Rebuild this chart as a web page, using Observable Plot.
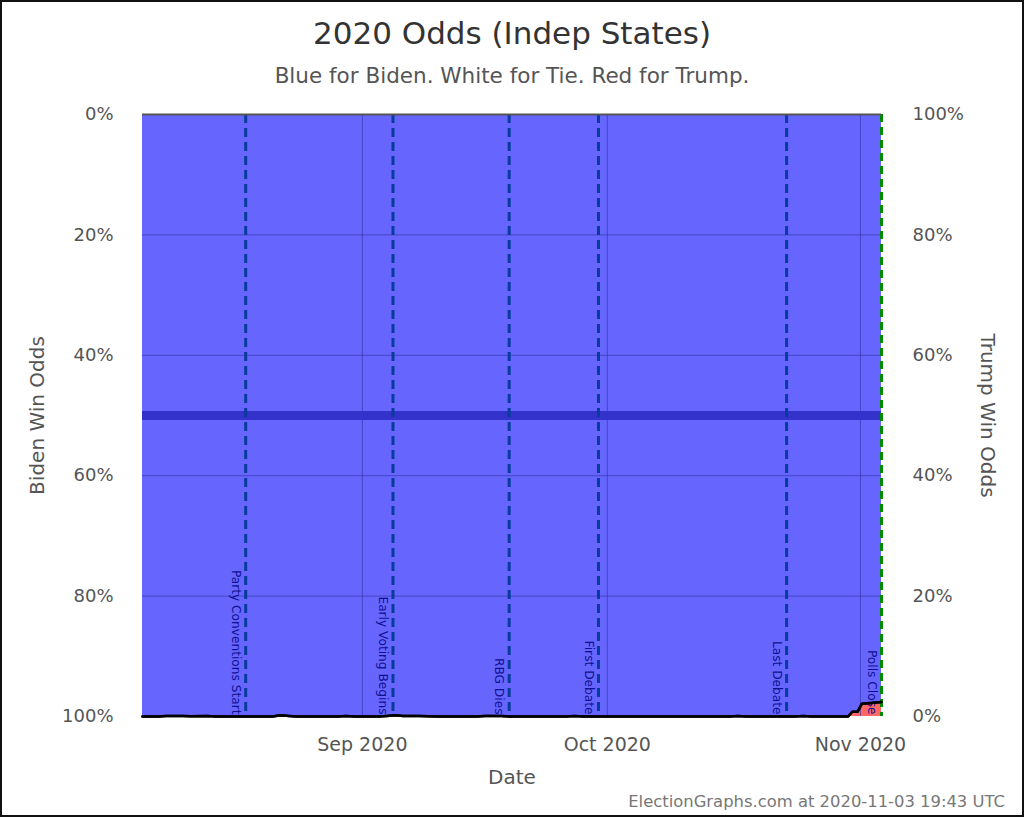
<!DOCTYPE html>
<html>
<head>
<meta charset="utf-8">
<script src="https://cdn.jsdelivr.net/npm/d3@7"></script>
<script src="https://cdn.jsdelivr.net/npm/@observablehq/plot@0.6"></script>
<style>
  html, body { margin: 0; padding: 0; background: #fff; }
  #wrap { position: relative; width: 1024px; height: 817px; overflow: hidden; font-family: "DejaVu Sans", sans-serif; }
  #border { position: absolute; left: 0; top: 0; width: 1024px; height: 817px; box-sizing: border-box; border: 2px solid #111; pointer-events: none; }
  .t { position: absolute; left: 0; width: 1024px; text-align: center; line-height: 1; white-space: nowrap; }
  #title { top: 18px; font-size: 31px; color: #333; }
  #subtitle { top: 65px; font-size: 21.5px; color: #555; }
  #footer { position: absolute; right: 19px; top: 794px; font-size: 16.4px; color: #777; line-height: 1; white-space: nowrap; }
  #chart { position: absolute; left: 0; top: 100px; }
</style>
</head>
<body>
<div id="wrap">
  <div id="title" class="t">2020 Odds (Indep States)</div>
  <div id="subtitle" class="t">Blue for Biden. White for Tie. Red for Trump.</div>
  <div id="chart"></div>
  <div id="footer">ElectionGraphs.com at 2020-11-03 19:43 UTC</div>
  <div id="border"></div>
</div>
<script>
// ---- data ----
const dates = [
  "2020-08-05T01:40Z", "2020-08-07T00:00Z", "2020-08-08T00:00Z", "2020-08-10T00:00Z", "2020-08-11T00:00Z",
  "2020-08-13T00:00Z", "2020-08-14T00:00Z", "2020-08-21T00:00Z", "2020-08-22T00:00Z", "2020-08-23T00:00Z",
  "2020-08-24T00:00Z", "2020-08-29T00:00Z", "2020-08-30T00:00Z", "2020-08-31T00:00Z", "2020-09-03T00:00Z",
  "2020-09-04T00:00Z", "2020-09-05T00:00Z", "2020-09-06T00:00Z", "2020-09-08T00:00Z", "2020-09-09T00:00Z",
  "2020-09-10T00:00Z", "2020-09-15T00:00Z", "2020-09-16T00:00Z", "2020-09-18T00:00Z", "2020-09-19T00:00Z",
  "2020-09-26T00:00Z", "2020-09-27T00:00Z", "2020-09-28T00:00Z", "2020-10-16T00:00Z", "2020-10-17T00:00Z",
  "2020-10-18T00:00Z", "2020-10-24T00:00Z", "2020-10-25T00:00Z", "2020-10-26T00:00Z", "2020-10-30T12:00Z",
  "2020-10-31T00:00Z", "2020-10-31T16:00Z", "2020-11-01T04:00Z", "2020-11-02T00:00Z", "2020-11-03T14:00Z"
];
const bidenOdds = [
  100, 100, 99.9, 99.9, 99.95,
  99.9, 100, 100, 99.8, 99.9,
  100, 100, 99.9, 100, 100,
  99.9, 99.8, 99.9, 99.9, 99.95,
  100, 100, 99.9, 99.9, 100,
  100, 99.9, 100, 100, 99.9,
  100, 100, 99.9, 100, 100,
  99.2, 99.2, 97.9, 97.8, 97.6
];
const trumpOdds = [
  0, 0, 0.1, 0.1, 0.05,
  0.1, 0, 0, 0.2, 0.1,
  0, 0, 0.1, 0, 0,
  0.1, 0.2, 0.1, 0.1, 0.05,
  0, 0, 0.1, 0.1, 0,
  0, 0.1, 0, 0, 0.1,
  0, 0, 0.1, 0, 0,
  0.8, 0.8, 2.1, 2.2, 2.4
];
const eventNames = ["Party Conventions Start", "Early Voting Begins", "RBG Dies", "First Debate", "Last Debate", "Polls Close"];
const eventDates = ["2020-08-17T17:00Z", "2020-09-04T18:00Z", "2020-09-18T23:30Z", "2020-09-29T22:00Z", "2020-10-22T23:00Z", "2020-11-03T14:00Z"];
const monthTicks = ["2020-09-01T00:00Z", "2020-10-01T00:00Z", "2020-11-01T00:00Z"];
const yTicks = [0, 20, 40, 60, 80, 100];
const xDomain = ["2020-08-05T01:40Z", "2020-11-03T14:00Z"];

// ---- build tables ----
const data = dates.map((d, i) => ({date: new Date(d), biden: bidenOdds[i], trump: trumpOdds[i]}));
const events = eventNames.map((n, i) => ({name: n, date: new Date(eventDates[i])}));
const months = monthTicks.map(d => new Date(d));
const mainEvents = events.slice(0, 5);
const closeEvent = events.slice(5);

const chart = Plot.plot({
  width: 1024,
  height: 690,
  marginTop: 14,
  marginBottom: 74,
  marginLeft: 142,
  marginRight: 143,
  style: {fontFamily: "DejaVu Sans, sans-serif", color: "#555", background: "transparent", overflow: "visible"},
  x: {type: "utc", domain: xDomain.map(d => new Date(d))},
  y: {domain: [0, 100], reverse: true},
  marks: [
    Plot.areaY(data, {x: "date", y1: 0, y2: "biden", fill: "#6666ff"}),
    Plot.areaY(data, {x: "date", y1: d => 100 - d.trump, y2: 100, fill: "#ff6666"}),
    Plot.ruleY([20, 40, 60, 80], {stroke: "#3434a4", strokeOpacity: 0.65, strokeWidth: 1}),
    Plot.ruleX(months, {stroke: "#3434a4", strokeOpacity: 0.65, strokeWidth: 1}),
    Plot.ruleY([50], {stroke: "#3333cc", strokeWidth: 9}),
    Plot.ruleX(mainEvents, {x: "date", stroke: "#073c9c", strokeWidth: 3, strokeDasharray: "9,5"}),
    Plot.ruleX(closeEvent, {x: "date", stroke: "#008a00", strokeWidth: 3, strokeDasharray: "8,5"}),
    Plot.text(events, {x: "date", y: 100, text: "name", rotate: 90, textAnchor: "end", dx: -10, dy: -2, fill: "#10108f", fontSize: 12.2}),
    Plot.line(data, {x: "date", y: d => 100 - d.trump, stroke: "#000", strokeWidth: 2.5}),
    Plot.line(data, {x: "date", y: "biden", stroke: "#000", strokeWidth: 2.5}),
    Plot.ruleY([0], {stroke: "#555", strokeWidth: 2}),
    Plot.axisY(yTicks, {anchor: "left", tickFormat: d => d + "%", tickSize: 0, tickPadding: 29, fontSize: 18, label: null}),
    Plot.axisY(yTicks, {anchor: "right", tickFormat: d => (100 - d) + "%", tickSize: 0, tickPadding: 31, fontSize: 18, label: null}),
    Plot.axisX(months, {tickFormat: d3.utcFormat("%b %Y"), tickSize: 0, tickPadding: 21, fontSize: 19, label: null}),
    Plot.text(["Biden Win Odds"], {frameAnchor: "left", dx: -105, rotate: -90, textAnchor: "middle", fontSize: 20, fill: "#555"}),
    Plot.text(["Trump Win Odds"], {frameAnchor: "right", dx: 106, rotate: 90, textAnchor: "middle", fontSize: 20, fill: "#555"}),
    Plot.text(["Date"], {frameAnchor: "bottom", dy: 67, fontSize: 20, fill: "#555"})
  ]
});
document.getElementById("chart").appendChild(chart);
</script>
</body>
</html>
